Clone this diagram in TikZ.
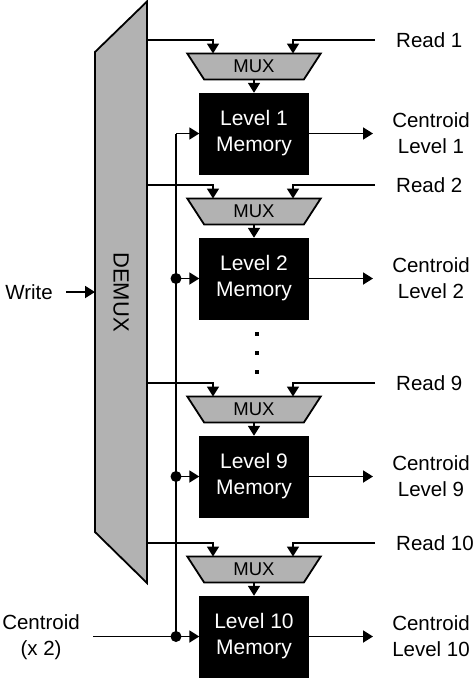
\documentclass[tikz,border=0pt]{standalone}
\usepackage{fontspec}
\setmainfont{Liberation Sans}
\usetikzlibrary{arrows.meta,shapes.geometric,calc}
\definecolor{muxgray}{RGB}{178,178,178}
\tikzset{
  wire/.style={line width=1.8pt},
  arr/.style={wire,-{Triangle[length=10pt,width=12pt]}},
  muxbox/.style={trapezium, trapezium angle=61.7, shape border rotate=180,
    trapezium stretches=true, minimum width=134pt, minimum height=26pt,
    inner sep=0pt, draw, line width=1.8pt, fill=muxgray,
    font=\fontsize{18.5}{20}\selectfont},
  membox/.style={draw=black, fill=black, text=white, minimum width=109pt,
    minimum height=81pt, inner sep=0pt, align=center,
    font=\fontsize{21}{26}\selectfont},
  lbl/.style={align=center, inner sep=0pt, font=\fontsize{20.5}{26}\selectfont},
  junction/.style={circle, fill=black, inner sep=0pt, minimum size=11pt},
  vdot/.style={rectangle, fill=black, inner sep=0pt, minimum size=4pt}
}
\begin{document}
\begin{tikzpicture}[x=1pt,y=-1pt]
\useasboundingbox (0,0) rectangle (474,678);

% DEMUX
\draw[line width=1.8pt, fill=muxgray, line join=miter] (95,52) -- (147,1.5) -- (147,583) -- (95,532) -- cycle;
\node[rotate=-90, font=\fontsize{22}{26}\selectfont] (demux) at (121,292) {DEMUX};

% Write input
\node[lbl, anchor=east] (write) at (53,292) {Write};
\coordinate (wstart) at (66,292);
\coordinate (demuxin) at (95,292);
\draw[arr] (wstart) -- (demuxin);

% Levels
\foreach \i/\R/\lab/\rd in {1/40/1/Read 1, 2/185/2/Read 2, 9/383/9/Read 9, 10/543/10/Read 10}{
  \coordinate (d\i) at (147,\R);
  \node[muxbox] (mux\i) at (254,\R+26.5) {MUX};
  \node[membox] (box\i) at (254,\R+93.5) {Level \lab\\Memory};
  \node[lbl, anchor=west] (read\i) at (396,\R) {\rd};
  \coordinate (rs\i) at (375,\R);
  \draw[arr] (d\i) -| ([shift={(-41,-13)}]mux\i.center);
  \draw[arr] (rs\i) -| ([shift={(39,-13)}]mux\i.center);
  \draw[arr] ([yshift=-13pt]mux\i.center) -- (box\i.north);
  \node[lbl] (cl\i) at (431,\R+93.5) {Centroid\\Level \lab};
  \coordinate (co\i) at (373,\R+93.5);
  \draw[arr] (box\i.east) -- (co\i);
}

% Bus
\coordinate (bustop) at (176,133.5);
\coordinate (busbot) at (176,636.5);
\draw[wire] (bustop) -- (busbot);
\draw[arr] (bustop) -- (box1.west);
\foreach \i in {2,9}{
  \node[junction] (j\i) at (box\i.west -| bustop) {};
  \draw[arr] (j\i.center) -- (box\i.west);
}
\node[junction] (j10) at (busbot) {};

% Centroid input
\node[lbl] (cin) at (41,637) {Centroid\\(x 2)};
\coordinate (cstart) at (93,636.5);
\draw[arr] (cstart) -- (box10.west);

% vertical dots
\node[vdot] (dot1) at (257,334) {};
\node[vdot] (dot2) at (257,353) {};
\node[vdot] (dot3) at (257,372) {};
\end{tikzpicture}
\end{document}
